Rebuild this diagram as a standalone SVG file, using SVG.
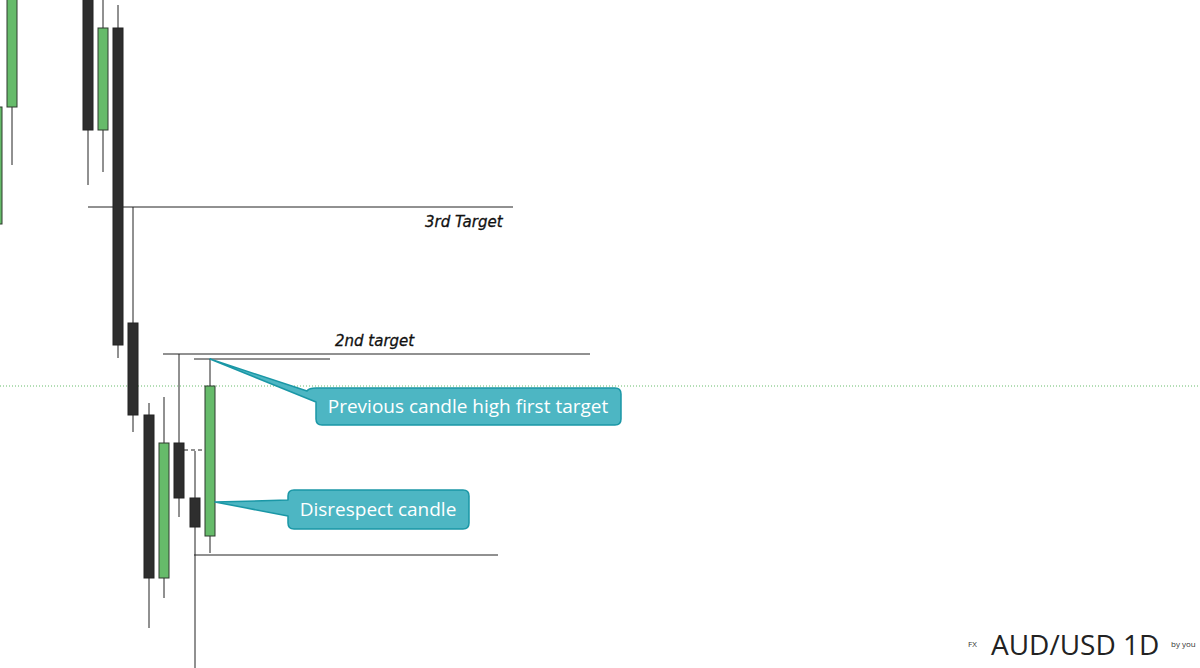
<svg xmlns="http://www.w3.org/2000/svg" width="1200" height="668" viewBox="0 0 1200 668">
<style>
.w{stroke:#222;stroke-width:1}
.g{fill:#66bb6a;stroke:#2e3a2e;stroke-width:1}
.d{fill:#2e2e2e;stroke:#222;stroke-width:1}
.l{stroke:#222;stroke-width:1;fill:none}
.lbl{font-family:"DejaVu Sans",sans-serif;font-size:15px;font-style:italic;fill:#111;stroke:#111;stroke-width:0.3}
.cb{fill:#4db6c3;stroke:#1a97a6;stroke-width:1.5}
.ct{font-family:"Open Sans","Noto Sans",sans-serif;font-size:19px;fill:#fff}
</style>
<rect width="1200" height="668" fill="#fff"/>
<line x1="0" y1="386" x2="1200" y2="386" stroke="#66bb6a" stroke-width="1" stroke-dasharray="1,2"/>
<g id="levels">
<line class="l" x1="88" y1="207" x2="513" y2="207"/>
<line class="l" x1="133" y1="207" x2="133" y2="323"/>
<line class="l" x1="163" y1="354" x2="590" y2="354"/>
<line class="l" x1="179" y1="354" x2="179" y2="443"/>
<line class="l" x1="194" y1="359" x2="330" y2="359"/>
<line class="l" x1="194" y1="555" x2="498" y2="555"/>
<line class="l" x1="184" y1="450" x2="202" y2="450" stroke-dasharray="4,3"/>
</g>
<g id="candles">
<line class="w" x1="12" y1="0" x2="12" y2="165"/><rect class="g" x="7" y="-2" width="10" height="109"/>
<line class="w" x1="0" y1="107" x2="0" y2="224"/><rect class="g" x="-8" y="107" width="10" height="117"/>
<line class="w" x1="88" y1="0" x2="88" y2="185"/><rect class="d" x="83" y="-2" width="10" height="132"/>
<line class="w" x1="103" y1="0" x2="103" y2="172"/><rect class="g" x="98" y="28" width="10" height="102"/>
<line class="w" x1="118" y1="5" x2="118" y2="358"/><rect class="d" x="113" y="28" width="10" height="317"/>
<line class="w" x1="133" y1="323" x2="133" y2="432"/><rect class="d" x="128" y="323" width="10" height="92"/>
<line class="w" x1="149" y1="403" x2="149" y2="628"/><rect class="d" x="144" y="415" width="10" height="163"/>
<line class="w" x1="164" y1="397" x2="164" y2="598"/><rect class="g" x="159" y="443" width="10" height="135"/>
<line class="w" x1="179" y1="443" x2="179" y2="517"/><rect class="d" x="174" y="443" width="10" height="55"/>
<line class="w" x1="195" y1="451" x2="195" y2="668"/><rect class="d" x="190" y="498" width="10" height="29"/>
<line class="w" x1="210" y1="359" x2="210" y2="553"/><rect class="g" x="205" y="386" width="10" height="150"/>
</g>
<text class="lbl" x="425" y="227">3rd Target</text>
<text class="lbl" x="335" y="346">2nd target</text>
<g id="callout1">
<path class="cb" d="M322,388 H615 Q621,388 621,394 V419 Q621,425 615,425 H322 Q316,425 316,419 V402 L210,359 L307,391 Q309,388 316,388 Z" stroke-linejoin="round"/>
<text class="ct" x="468" y="413" text-anchor="middle">Previous candle high first target</text>
</g>
<g id="callout2">
<path class="cb" d="M294,490 H463 Q469,490 469,496 V523 Q469,529 463,529 H294 Q288,529 288,523 V516 L215,502 L288,500 V496 Q288,490 294,490 Z" stroke-linejoin="round"/>
<text class="ct" x="378" y="516" text-anchor="middle">Disrespect candle</text>
</g>
<text x="968" y="647" font-family="'Open Sans','Noto Sans',sans-serif" font-size="8" fill="#333">FX</text>
<text x="991" y="655" font-family="'Open Sans','Noto Sans',sans-serif" font-size="28" fill="#222">AUD/USD 1D</text>
<text x="1171" y="647" font-family="'Open Sans','Noto Sans',sans-serif" font-size="8" fill="#333">by you</text>
</svg>
